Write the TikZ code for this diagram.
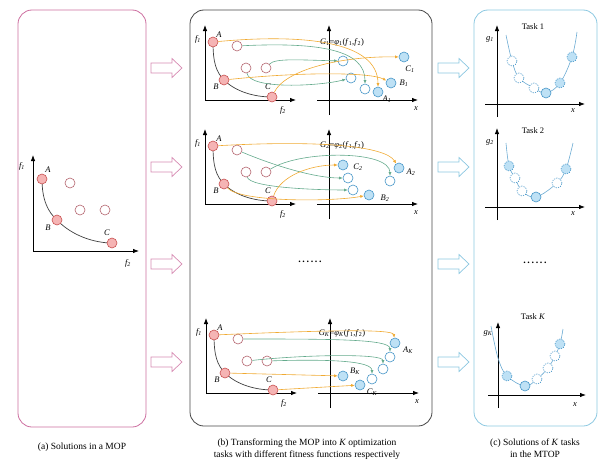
\documentclass[tikz,border=0pt]{standalone}
\usepackage{fontspec}
\setmainfont{Liberation Serif}
\usetikzlibrary{arrows.meta,backgrounds}
\definecolor{pinkedge}{RGB}{205,110,160}
\definecolor{ptfill}{RGB}{245,180,180}
\definecolor{ptedge}{RGB}{200,80,80}
\definecolor{holedge}{RGB}{180,100,110}
\definecolor{bfill}{RGB}{190,225,245}
\definecolor{bedge}{RGB}{70,150,200}
\definecolor{orangel}{RGB}{240,170,50}
\definecolor{greenl}{RGB}{100,170,140}
\definecolor{cedge}{RGB}{140,200,225}
\definecolor{panelgray}{RGB}{70,70,70}
\tikzset{
 ppt/.style={circle, draw=ptedge, fill=ptfill, minimum size=10pt, inner sep=0pt, line width=0.6pt},
 hpt/.style={circle, draw=holedge, fill=white, minimum size=10pt, inner sep=0pt, line width=0.6pt},
 bpt/.style={circle, draw=bedge, fill=bfill, minimum size=10pt, inner sep=0pt, line width=0.6pt},
 bhpt/.style={circle, draw=bedge, fill=white, minimum size=10pt, inner sep=0pt, line width=0.6pt},
 dhpt/.style={bhpt, dash pattern=on 1.2pt off 1.2pt},
 dfpt/.style={bpt, dash pattern=on 1.2pt off 1.2pt},
 axisline/.style={line width=0.8pt, -{Latex[length=6pt,width=4.5pt]}},
 oarr/.style={draw=orangel, line width=0.6pt, -{Latex[length=3.5pt,width=3pt]}},
 garr/.style={draw=greenl, line width=0.6pt, -{Latex[length=3.5pt,width=3pt]}},
 pareto/.style={draw=black!75, line width=0.7pt},
 ucurve/.style={draw=bedge!80, line width=0.6pt},
 panel/.style={rounded corners=14pt, line width=0.8pt},
 lbl/.style={font=\fontsize{8.5}{9}\selectfont\itshape, inner sep=0pt},
 glbl/.style={font=\fontsize{8.5}{9}\selectfont, inner sep=0pt},
 tlbl/.style={font=\fontsize{8.5}{9}\selectfont, inner sep=0pt},
 dotlbl/.style={font=\fontsize{10}{10}\selectfont\bfseries, inner sep=0pt},
 captext/.style={font=\fontsize{9.5}{11.5}\selectfont, align=center, inner sep=0pt},
 pinkarrow/.style={draw=pinkedge!80, line width=0.7pt, fill=white},
 bluearrow/.style={draw=cedge, line width=0.7pt, fill=white}
}
\newcommand\blockarrow[3]{%
 \draw[#3] ({#1},{#2-5}) -- ({#1+21},{#2-5}) -- ({#1+21},{#2-9.5}) -- ({#1+31},{#2}) -- ({#1+21},{#2+9.5}) -- ({#1+21},{#2+5}) -- ({#1},{#2+5}) -- cycle;}
\newcommand\leftplot[1]{%
 \draw[axisline] (205,100) -- (205,25);
 \draw[axisline] (205,100) -- (296,100);
 \draw[axisline] (329,115) -- (329,25);
 \draw[axisline] (317,100) -- (418,100);
 \node[lbl] (#1f1) at (198,39) {f\textsubscript{1}};
 \node[lbl] (#1f2) at (283,110) {f\textsubscript{2}};
 \node[lbl] (#1x) at (416,109) {x};
 \node[ppt] (#1A) at (213,42) {};
 \node[ppt] (#1B) at (224,80) {};
 \node[ppt] (#1C) at (272,97) {};
 \node[hpt] (#1h1) at (237,46) {};
 \node[hpt] (#1h2) at (246,68) {};
 \node[hpt] (#1h3) at (266,68) {};
 \node[lbl] (#1la) at (219,35) {A};
 \node[lbl] (#1lb) at (216,87) {B};
 \node[lbl] (#1lc) at (268,87) {C};
 \begin{pgfonlayer}{background}
 \draw[pareto] (#1A.center) .. controls (213,62) and (216,72) .. (#1B.center) .. controls (236,92) and (255,97) .. (#1C.center);
 \end{pgfonlayer}
}
\begin{document}
\begin{tikzpicture}[x=1pt,y=-1pt]
\useasboundingbox (0,0) rectangle (600,471);
% panels
\draw[panel, draw=pinkedge] (18,10) rectangle (146,427);
\draw[panel, draw=panelgray] (190,10) rectangle (432,426);
\draw[panel, draw=cedge] (474,10) rectangle (597,426);
% block arrows
\foreach \yy in {68,167,264,362} {\blockarrow{151}{\yy}{pinkarrow}\blockarrow{438}{\yy}{bluearrow}}
% panel (a)
\draw[axisline] (33,251) -- (33,155);
\draw[axisline] (33,251) -- (139,251);
\node[lbl] (af1) at (22,166) {f\textsubscript{1}};
\node[lbl] (af2) at (128,263) {f\textsubscript{2}};
\node[ppt] (aA) at (42,179) {};
\node[ppt] (aB) at (57,220) {};
\node[ppt] (aC) at (112,243) {};
\node[hpt] (ah1) at (70,183) {};
\node[hpt] (ah2) at (80,210) {};
\node[hpt] (ah3) at (105,210) {};
\node[lbl] (ala) at (48,170) {A};
\node[lbl] (alb) at (48,228) {B};
\node[lbl] (alc) at (107,233) {C};
\begin{pgfonlayer}{background}
\draw[pareto] (aA.center) .. controls (42,200) and (48,212) .. (aB.center) .. controls (72,236) and (95,243) .. (aC.center);
\end{pgfonlayer}
\node[captext] (capa) at (82,447) {(a) Solutions in a MOP};
% panel (b) plot 1
\begin{scope}
\leftplot{1}
\node[bhpt] (p1a) at (343,61) {};
\node[bhpt] (p1b) at (351,78) {};
\node[bpt] (B1) at (391,83) {};
\node[bhpt] (p1c) at (365,89) {};
\node[bpt] (A1) at (378,92) {};
\node[bpt] (C1) at (404,57) {};
\node[glbl] (G1) at (342,42) {\textit{G}\textsubscript{1}=\textit{φ}\textsubscript{1}(\textit{f}\textsubscript{1},\textit{f}\textsubscript{2})};
\node[lbl] (lC1) at (410,69) {C\textsubscript{1}};
\node[lbl] (lB1) at (404,83) {B\textsubscript{1}};
\node[lbl] (lA1) at (387,99) {A\textsubscript{1}};
\draw[oarr] (1A) .. controls (300,34) and (378,40) .. (A1);
\draw[garr] (1h1) .. controls (320,42) and (365,50) .. (p1c);
\draw[garr] (1h3) .. controls (275,58) and (300,60) .. (p1a);
\draw[garr] (1h2) .. controls (250,90) and (320,86) .. (p1b);
\draw[oarr] (1B) .. controls (300,72) and (370,72) .. (B1);
\draw[oarr] (1C) .. controls (285,70) and (340,56) .. (C1);
\end{scope}
% panel (b) plot 2
\begin{scope}[shift={(0,104)}]
\leftplot{2}
\node[bpt] (C2) at (343,61) {};
\node[bhpt] (p2a) at (348,74) {};
\node[bhpt] (p2b) at (353,86) {};
\node[bpt] (B2) at (369,91) {};
\node[bpt] (A2) at (399,64) {};
\node[bhpt] (p2c) at (390,77) {};
\node[glbl] (G2) at (342,41) {\textit{G}\textsubscript{2}=\textit{φ}\textsubscript{2}(\textit{f}\textsubscript{1},\textit{f}\textsubscript{2})};
\node[lbl] (lC2) at (358,63) {C\textsubscript{2}};
\node[lbl] (lB2) at (385,94) {B\textsubscript{2}};
\node[lbl] (lA2) at (411,68) {A\textsubscript{2}};
\draw[oarr] (2A) .. controls (320,36) and (385,42) .. (A2);
\draw[garr] (2h1) .. controls (275,62) and (315,74) .. (p2a);
\draw[garr] (2h3) .. controls (300,46) and (390,46) .. (p2c);
\draw[garr] (2h2) .. controls (250,84) and (320,86) .. (p2b);
\draw[oarr] (2B) .. controls (240,98) and (330,98) .. (B2);
\draw[oarr] (2C) .. controls (280,72) and (310,61) .. (C2);
\end{scope}
% panel (b) plot K
\begin{scope}[shift={(1,293)}]
\leftplot{K}
\node[bpt] (AK) at (394,50) {};
\node[bhpt] (pKa) at (389,64) {};
\node[bhpt] (pKb) at (382,76) {};
\node[bhpt] (pKc) at (371,86) {};
\node[bpt] (BK) at (342,83) {};
\node[bpt] (CK) at (359,92) {};
\node[glbl] (GK) at (341,40) {\textit{G}\textsubscript{\textit{K}}=\textit{φ}\textsubscript{\textit{K}}(\textit{f}\textsubscript{1},\textit{f}\textsubscript{2})};
\node[lbl] (lAK) at (407,57) {A\textsubscript{K}};
\node[lbl] (lBK) at (354,78) {B\textsubscript{K}};
\node[lbl] (lCK) at (371,99) {C\textsubscript{K}};
\draw[oarr] (KA) .. controls (330,37) and (392,36) .. (AK);
\draw[garr] (Kh1) .. controls (330,46) and (389,46) .. (pKa);
\draw[garr] (Kh2) .. controls (300,62) and (382,60) .. (pKb);
\draw[garr] (Kh3) .. controls (330,66) and (371,68) .. (pKc);
\draw[oarr] (KB) -- (BK);
\draw[oarr] (KC) -- (CK);
\end{scope}
\node[dotlbl] (dotsb) at (310,262) {.\,.\,.\,.\,.\,.};
\node[captext] (capb) at (307,449) {(b) Transforming the MOP into \textit{K} optimization\\tasks with different fitness functions respectively};
% panel (c) Task 1
\node[tlbl] (t1) at (533,27) {Task 1};
\draw[axisline] (497,117) -- (497,25);
\draw[axisline] (485,104) -- (585,104);
\node[lbl] (g1) at (490,39) {g\textsubscript{1}};
\node[lbl] (x1) at (573,111) {x};
\draw[ucurve] plot[smooth, tension=0.6] coordinates {(506,35) (512,61) (519,78) (534,88) (546,93) (560,83) (572,57) (577,32)};
\node[dhpt] (t1a) at (512,61) {};
\node[dhpt] (t1b) at (519,78) {};
\node[dhpt] (t1c) at (534,88) {};
\node[bpt] (t1d) at (546,93) {};
\node[dfpt] (t1e) at (560,83) {};
\node[dfpt] (t1f) at (572,57) {};
% Task 2
\node[tlbl] (t2) at (533,131) {Task 2};
\draw[axisline] (497,220) -- (497,128);
\draw[axisline] (485,207) -- (585,207);
\node[lbl] (g2) at (490,142) {g\textsubscript{2}};
\node[lbl] (x2) at (573,214) {x};
\draw[ucurve] plot[smooth, tension=0.6] coordinates {(506,143) (509,166) (515,178) (522,191) (536,197) (557,183) (566,169) (573,143)};
\node[dfpt] (t2a) at (509,166) {};
\node[dhpt] (t2b) at (515,178) {};
\node[dhpt] (t2c) at (522,191) {};
\node[bpt] (t2d) at (536,197) {};
\node[dhpt] (t2e) at (557,183) {};
\node[dfpt] (t2f) at (566,169) {};
\node[dotlbl] (dotsc) at (535,263) {.\,.\,.\,.\,.\,.};
% Task K
\node[tlbl] (tK) at (533,317) {Task \textit{K}};
\draw[axisline] (498,408) -- (498,322);
\draw[axisline] (488,395) -- (586,395);
\node[lbl] (gK) at (488,333) {g\textsubscript{K}};
\node[lbl] (xK) at (575,405) {x};
\draw[ucurve] plot[smooth, tension=0.6] coordinates {(491,326) (498,358) (507,376) (525,386) (537,379) (548,368) (555,356) (560,344) (563,329)};
\node[dfpt] (tKa) at (507,376) {};
\node[bpt] (tKb) at (525,386) {};
\node[dhpt] (tKc) at (537,379) {};
\node[dhpt] (tKd) at (548,368) {};
\node[dhpt] (tKe) at (555,356) {};
\node[dfpt] (tKf) at (560,344) {};
\node[captext] (capc) at (535,448) {(c) Solutions of \textit{K} tasks\\in the MTOP};
\end{tikzpicture}
\end{document}
